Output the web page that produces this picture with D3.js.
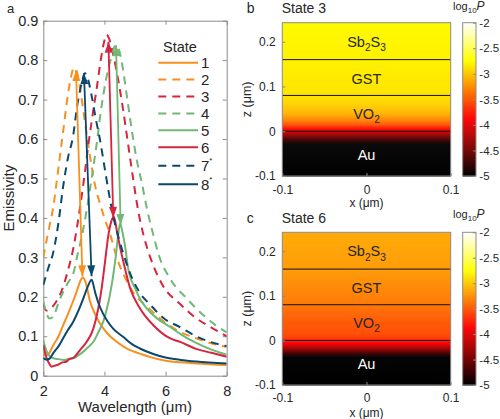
<!DOCTYPE html>
<html><head><meta charset="utf-8">
<script src="https://cdn.jsdelivr.net/npm/d3@7"></script>
<style>
body{margin:0;background:#fff}
svg{display:block}
text{font-family:"Liberation Sans",Arial,Helvetica,sans-serif;fill:#262626}
</style>
</head><body>
<svg id="chart" width="500" height="419"></svg>
<script>
// ---------------- DATA ----------------
const stateNames = ["1","2","3","4","5","6","7","8"];
const stateNotes = ["","","","","","","*","*"];
const xTicks = [2,4,6,8];
const yTicks = [0,0.1,0.2,0.3,0.4,0.5,0.6,0.7,0.8,0.9];

// emissivity spectra: [wavelength (um), emissivity]
const state1 = [[2.0,0.056],[2.08,0.052],[2.2,0.058],[2.33,0.078],[2.5,0.1],[2.65,0.128],[2.8,0.155],[2.98,0.19],[3.1,0.215],[3.2,0.238],[3.29,0.249],[3.38,0.238],[3.53,0.188],[3.7,0.155],[3.85,0.133],[4.1,0.107],[4.4,0.086],[4.8,0.066],[5.16,0.056],[5.5,0.047],[6.0,0.038],[6.5,0.034],[7.0,0.031],[8.0,0.027]];
const state2 = [[2.0,0.30],[2.15,0.36],[2.33,0.43],[2.5,0.53],[2.65,0.62],[2.8,0.71],[2.9,0.755],[3.0,0.78],[3.1,0.77],[3.2,0.73],[3.35,0.65],[3.5,0.57],[3.7,0.48],[3.86,0.435],[4.0,0.4],[4.2,0.355],[4.4,0.3],[4.7,0.245],[5.0,0.205],[5.4,0.175],[5.9,0.14],[6.5,0.11],[7.0,0.095],[7.5,0.082],[8.0,0.073]];
const state3 = [[2.0,0.18],[2.1,0.165],[2.2,0.168],[2.4,0.185],[2.6,0.215],[2.8,0.265],[3.0,0.33],[3.15,0.4],[3.3,0.48],[3.5,0.6],[3.65,0.68],[3.75,0.73],[3.9,0.81],[4.0,0.85],[4.07,0.865],[4.15,0.855],[4.3,0.81],[4.45,0.75],[4.6,0.68],[4.75,0.6],[4.9,0.52],[5.1,0.42],[5.3,0.35],[5.5,0.3],[5.9,0.23],[6.5,0.18],[7.0,0.146],[7.5,0.122],[8.0,0.1]];
const state4 = [[2.0,0.188],[2.1,0.16],[2.2,0.145],[2.3,0.148],[2.55,0.196],[2.8,0.235],[3.0,0.264],[3.1,0.3],[3.25,0.35],[3.42,0.42],[3.58,0.5],[3.75,0.59],[3.9,0.68],[4.05,0.75],[4.2,0.8],[4.38,0.838],[4.48,0.825],[4.6,0.78],[4.75,0.7],[4.9,0.62],[5.05,0.55],[5.22,0.49],[5.4,0.42],[5.6,0.357],[5.76,0.31],[6.14,0.247],[6.69,0.196],[7.23,0.154],[7.6,0.13],[8.0,0.11]];
const state5 = [[2.0,0.09],[2.05,0.075],[2.15,0.055],[2.3,0.045],[2.5,0.042],[2.7,0.04],[2.85,0.043],[3.0,0.045],[3.15,0.052],[3.31,0.061],[3.5,0.075],[3.64,0.086],[3.8,0.11],[3.96,0.137],[4.08,0.17],[4.18,0.205],[4.35,0.289],[4.45,0.357],[4.51,0.386],[4.6,0.36],[4.67,0.331],[4.78,0.27],[5.0,0.222],[5.2,0.19],[5.38,0.171],[5.71,0.146],[6.14,0.124],[6.5,0.105],[7.0,0.083],[7.5,0.066],[8.0,0.053]];
const state6 = [[2.0,0.078],[2.05,0.06],[2.11,0.044],[2.2,0.03],[2.27,0.023],[2.35,0.025],[2.49,0.028],[2.6,0.033],[2.76,0.036],[2.85,0.042],[2.98,0.045],[3.1,0.055],[3.2,0.065],[3.42,0.086],[3.64,0.12],[3.8,0.171],[3.91,0.222],[4.02,0.289],[4.13,0.357],[4.22,0.39],[4.31,0.403],[4.4,0.37],[4.5,0.33],[4.62,0.289],[4.84,0.222],[5.16,0.171],[5.6,0.128],[6.14,0.095],[6.5,0.085],[7.0,0.068],[7.5,0.058],[8.0,0.048]];
const state7 = [[2.0,0.23],[2.15,0.27],[2.33,0.314],[2.5,0.39],[2.65,0.48],[2.8,0.55],[2.98,0.61],[3.1,0.68],[3.25,0.74],[3.36,0.767],[3.45,0.755],[3.58,0.71],[3.72,0.65],[3.85,0.6],[4.0,0.53],[4.13,0.47],[4.3,0.4],[4.5,0.34],[4.7,0.29],[4.89,0.25],[5.16,0.21],[5.5,0.18],[5.9,0.148],[6.5,0.122],[7.0,0.1],[7.45,0.086],[8.0,0.075]];
const state8 = [[2.0,0.045],[2.1,0.041],[2.2,0.043],[2.33,0.058],[2.5,0.075],[2.65,0.095],[2.8,0.115],[2.98,0.137],[3.15,0.165],[3.31,0.196],[3.45,0.225],[3.58,0.243],[3.7,0.21],[3.8,0.185],[3.95,0.158],[4.1,0.138],[4.3,0.118],[4.62,0.098],[4.9,0.08],[5.16,0.069],[5.6,0.055],[6.0,0.046],[6.5,0.04],[7.0,0.036],[8.0,0.031]];
const spectra = [state1,state2,state3,state4,state5,state6,state7,state8];

// switching arrows: [from (dashed peak), to (solid peak)]
const arrowFrom = [[3.07,0.775],[3.33,0.767],[4.13,0.847],[4.38,0.838]];
const arrowTo   = [[3.28,0.252],[3.58,0.252],[4.29,0.40],[4.53,0.382]];

// absorbed power profiles log10(P) vs z (um)
const layerBounds = [0.16,0.08,0];
const profileZ  = [-0.1,-0.038,-0.03,-0.02,-0.01,0,0.005,0.015,0.025,0.04,0.06,0.08,0.16,0.2425];
const profile3  = [-5,-5,-5,-4.75,-4.4,-4.05,-3.85,-3.5,-3.3,-3.08,-2.95,-2.87,-2.81,-2.77];
const profile6  = [-5,-5,-4.75,-4.35,-4.0,-3.72,-3.62,-3.55,-3.52,-3.5,-3.44,-3.36,-3.2,-3.13];
const xTicksMap = [-0.1,0,0.1];
const zTicksMap = [-0.1,0,0.1,0.2];
const cbTicks = [-5,-4.5,-4,-3.5,-3,-2.5,-2];

// ---------------- STYLE ----------------
const stateColors = ["#f7901e","#f7901e","#d6253e","#70b874","#70b874","#d6253e","#0b486e","#0b486e"];
const stateDashed = [false,true,true,true,false,false,true,false];
const arrowColors = ["#f7901e","#0b486e","#d6253e","#70b874"];
const axisCol = "#8c8c8c";
const dash = "8,6";

const svg = d3.select("#chart");

// ---------------- PANEL a ----------------
const x = d3.scaleLinear().domain([2,8]).range([43.3,226.7]);
const y = d3.scaleLinear().domain([0,0.9]).range([375.7,20.7]);
const ga = svg.append("g");

function styleAxis(g, fs){
  g.select(".domain").attr("stroke",axisCol);
  g.selectAll(".tick line").attr("stroke",axisCol);
  g.selectAll(".tick text").attr("fill","#262626").style("font-size",fs+"px");
  g.attr("font-family",null).attr("font-size",null);
}
const axB = ga.append("g").attr("transform",`translate(0,${y(0)})`)
  .call(d3.axisBottom(x).tickValues(xTicks).tickSize(-4).tickSizeOuter(0).tickPadding(10.5).tickFormat(d3.format("d")));
styleAxis(axB,14.5);
const axL = ga.append("g").attr("transform",`translate(${x(2)},0)`)
  .call(d3.axisLeft(y).tickValues(yTicks).tickSize(-4).tickSizeOuter(0).tickPadding(5).tickFormat(d=>String(d)));
styleAxis(axL,14.5);
const axT = ga.append("g").attr("transform",`translate(0,${y(0.9)})`)
  .call(d3.axisTop(x).tickValues(xTicks).tickSize(-4).tickSizeOuter(0).tickFormat(""));
styleAxis(axT,10);
const axR = ga.append("g").attr("transform",`translate(${x(8)},0)`)
  .call(d3.axisRight(y).tickValues(yTicks).tickSize(-4).tickSizeOuter(0).tickFormat(""));
styleAxis(axR,10);

const line = d3.line().x(d=>x(d[0])).y(d=>y(d[1])).curve(d3.curveMonotoneX);
svg.append("clipPath").attr("id","clipA").append("rect")
  .attr("x",x(2)).attr("y",y(0.9)).attr("width",x(8)-x(2)).attr("height",y(0)-y(0.9));
const curves = ga.append("g").attr("clip-path","url(#clipA)");
spectra.forEach((s,i)=>{
  curves.append("path").attr("d",line(s)).attr("fill","none")
    .attr("stroke",stateColors[i]).attr("stroke-width",2)
    .attr("stroke-dasharray",stateDashed[i]?dash:null);
});

// arrows
function headPath(tip, from){
  const dx=tip[0]-from[0], dy=tip[1]-from[1], L=Math.hypot(dx,dy);
  const ux=dx/L, uy=dy/L, px=-uy, py=ux, h=11, w=4;
  const bx=tip[0]-ux*h, by=tip[1]-uy*h;
  return `M${tip[0]},${tip[1]}L${bx+px*w},${by+py*w}L${bx-px*w},${by-py*w}Z`;
}
arrowFrom.forEach((f,i)=>{
  const p0=[x(f[0]),y(f[1])], p1=[x(arrowTo[i][0]),y(arrowTo[i][1])];
  ga.append("line").attr("x1",p0[0]).attr("y1",p0[1]).attr("x2",p1[0]).attr("y2",p1[1])
    .attr("stroke",arrowColors[i]).attr("stroke-width",1.8);
  ga.append("path").attr("d",headPath(p0,p1)).attr("fill",arrowColors[i]);
  ga.append("path").attr("d",headPath(p1,p0)).attr("fill",arrowColors[i]);
});

// legend
const leg = ga.append("g");
leg.append("text").attr("x",163).attr("y",52).style("font-size","14.5px").text("State");
stateNames.forEach((n,i)=>{
  const ly = 62.7 + i*16.9 + (i>=6 ? (i-5)*1.6 : 0);
  leg.append("line").attr("x1",158.3).attr("x2",198).attr("y1",ly).attr("y2",ly)
    .attr("stroke",stateColors[i]).attr("stroke-width",2)
    .attr("stroke-dasharray",stateDashed[i]?dash:null);
  const t = leg.append("text").attr("x",201).attr("y",ly+5.4).style("font-size","15px").text(n);
  if(stateNotes[i]) t.append("tspan").attr("dy",-8).style("font-size","8px").text(stateNotes[i]);
});

// labels
ga.append("text").attr("x",7).attr("y",13).style("font-size","13px").text("a");
ga.append("text").attr("transform",`translate(13.5,${(y(0)+y(0.9))/2}) rotate(-90)`)
  .attr("text-anchor","middle").style("font-size","15px").text("Emissivity");
ga.append("text").attr("x",(x(2)+x(8))/2).attr("y",412).attr("text-anchor","middle")
  .style("font-size","15px").text("Wavelength (μm)");

// ---------------- PANELS b, c ----------------
function hot(v){
  const t = Math.max(0,Math.min(1,(v+5)/3));
  const c = u=>Math.round(255*Math.max(0,Math.min(1,u)));
  return `rgb(${c(t/0.375)},${c((t-0.375)/0.375)},${c((t-0.75)/0.25)})`;
}
function subText(sel, parts, fs){
  parts.forEach(p=>{
    if(p[1]==="sub") sel.append("tspan").attr("dy",fs*0.28).style("font-size",(fs*0.7)+"px").text(p[0]);
    else if(p[1]==="back") sel.append("tspan").attr("dy",-fs*0.28).style("font-size",fs+"px").text(p[0]);
    else sel.append("tspan").style("font-size",fs+"px").text(p[0]);
  });
}
function panel(top, bottom, letter, title, profile, letterY, logY, xlabY, tickPad){
  const g = svg.append("g");
  const xs = d3.scaleLinear().domain([-0.1,0.1]).range([282.3,450.7]);
  const zs = d3.scaleLinear().domain([-0.1,0.2425]).range([bottom,top]);
  const pf = d3.scaleLinear().domain(profileZ).range(profile);
  const n = Math.ceil(bottom-top);
  const rows = d3.range(n);
  const rh = (bottom-top)/n;
  g.selectAll("rect.row").data(rows).join("rect").attr("class","row")
    .attr("x",xs(-0.1)).attr("width",xs(0.1)-xs(-0.1))
    .attr("y",d=>top+d*rh).attr("height",rh+0.6)
    .attr("fill",d=>hot(pf(zs.invert(top+(d+0.5)*rh))));
  layerBounds.forEach(b=>{
    g.append("line").attr("x1",xs(-0.1)).attr("x2",xs(0.1)).attr("y1",zs(b)).attr("y2",zs(b))
      .attr("stroke","#111").attr("stroke-width",1);
  });
  g.append("rect").attr("x",xs(-0.1)).attr("y",top).attr("width",xs(0.1)-xs(-0.1)).attr("height",bottom-top)
    .attr("fill","none").attr("stroke",axisCol).attr("stroke-width",1);
  const axX = g.append("g").attr("transform",`translate(0,${bottom})`)
    .call(d3.axisBottom(xs).tickValues(xTicksMap).tickSize(-3).tickSizeOuter(0).tickPadding(tickPad).tickFormat(d=>String(d)));
  styleAxis(axX,12);
  const axZ = g.append("g").attr("transform",`translate(${xs(-0.1)},0)`)
    .call(d3.axisLeft(zs).tickValues(zTicksMap).tickSize(-3).tickSizeOuter(0).tickPadding(6.6).tickFormat(d=>String(d)));
  styleAxis(axZ,12);
  axX.select(".domain").remove(); axZ.select(".domain").remove();
  // layer labels
  const lx = xs(0), fs=14.5;
  subText(g.append("text").attr("x",lx).attr("y",zs(0.2)+5.2).attr("text-anchor","middle"),
    [["Sb"],["2","sub"],["S","back"],["3","sub"]],fs);
  g.append("text").attr("x",lx).attr("y",zs(0.118)+5.2).attr("text-anchor","middle").style("font-size",fs+"px").text("GST");
  subText(g.append("text").attr("x",lx).attr("y",zs(0.04)+5.2).attr("text-anchor","middle"),
    [["VO"],["2","sub"]],fs);
  g.append("text").attr("x",lx).attr("y",zs(-0.053)+5.2).attr("text-anchor","middle").style("font-size",fs+"px")
    .style("fill","#fff").text("Au");
  // axis labels
  g.append("text").attr("x",lx).attr("y",xlabY).attr("text-anchor","middle").style("font-size","12px").text("x (μm)");
  g.append("text").attr("transform",`translate(251,${(top+bottom)/2}) rotate(-90)`).attr("text-anchor","middle")
    .style("font-size","12.5px").text("z (μm)");
  g.append("text").attr("x",246.7).attr("y",letterY).style("font-size","14px").text(letter);
  g.append("text").attr("x",281.7).attr("y",letterY).style("font-size","14px").text(title);
  // colorbar
  const cs = d3.scaleLinear().domain([-5,-2]).range([bottom,top]);
  const cb = g.append("g");
  cb.selectAll("rect").data(rows).join("rect")
    .attr("x",462.7).attr("width",13.3).attr("y",d=>top+d*rh).attr("height",rh+0.6)
    .attr("fill",d=>hot(cs.invert(top+(d+0.5)*rh)));
  cb.append("rect").attr("x",462.7).attr("y",top).attr("width",13.3).attr("height",bottom-top)
    .attr("fill","none").attr("stroke",axisCol);
  const axC = g.append("g").attr("transform","translate(476,0)")
    .call(d3.axisRight(cs).tickValues(cbTicks).tickSize(-3).tickSizeOuter(0).tickPadding(3.3).tickFormat(d=>String(d)));
  styleAxis(axC,11.5);
  axC.select(".domain").remove();
  const lt = g.append("text").attr("x",453).attr("y",logY);
  lt.append("tspan").style("font-size","11px").text("log");
  lt.append("tspan").attr("dy",3).style("font-size","8px").text("10");
  lt.append("tspan").attr("dy",-3).style("font-size","12px").style("font-style","italic").text("P");
}
panel(22.7,176,"b","State 3",profile3,12.7,9.5,207,9);
panel(232.3,385,"c","State 6",profile6,222.5,218,417,8);
</script>
</body></html>
